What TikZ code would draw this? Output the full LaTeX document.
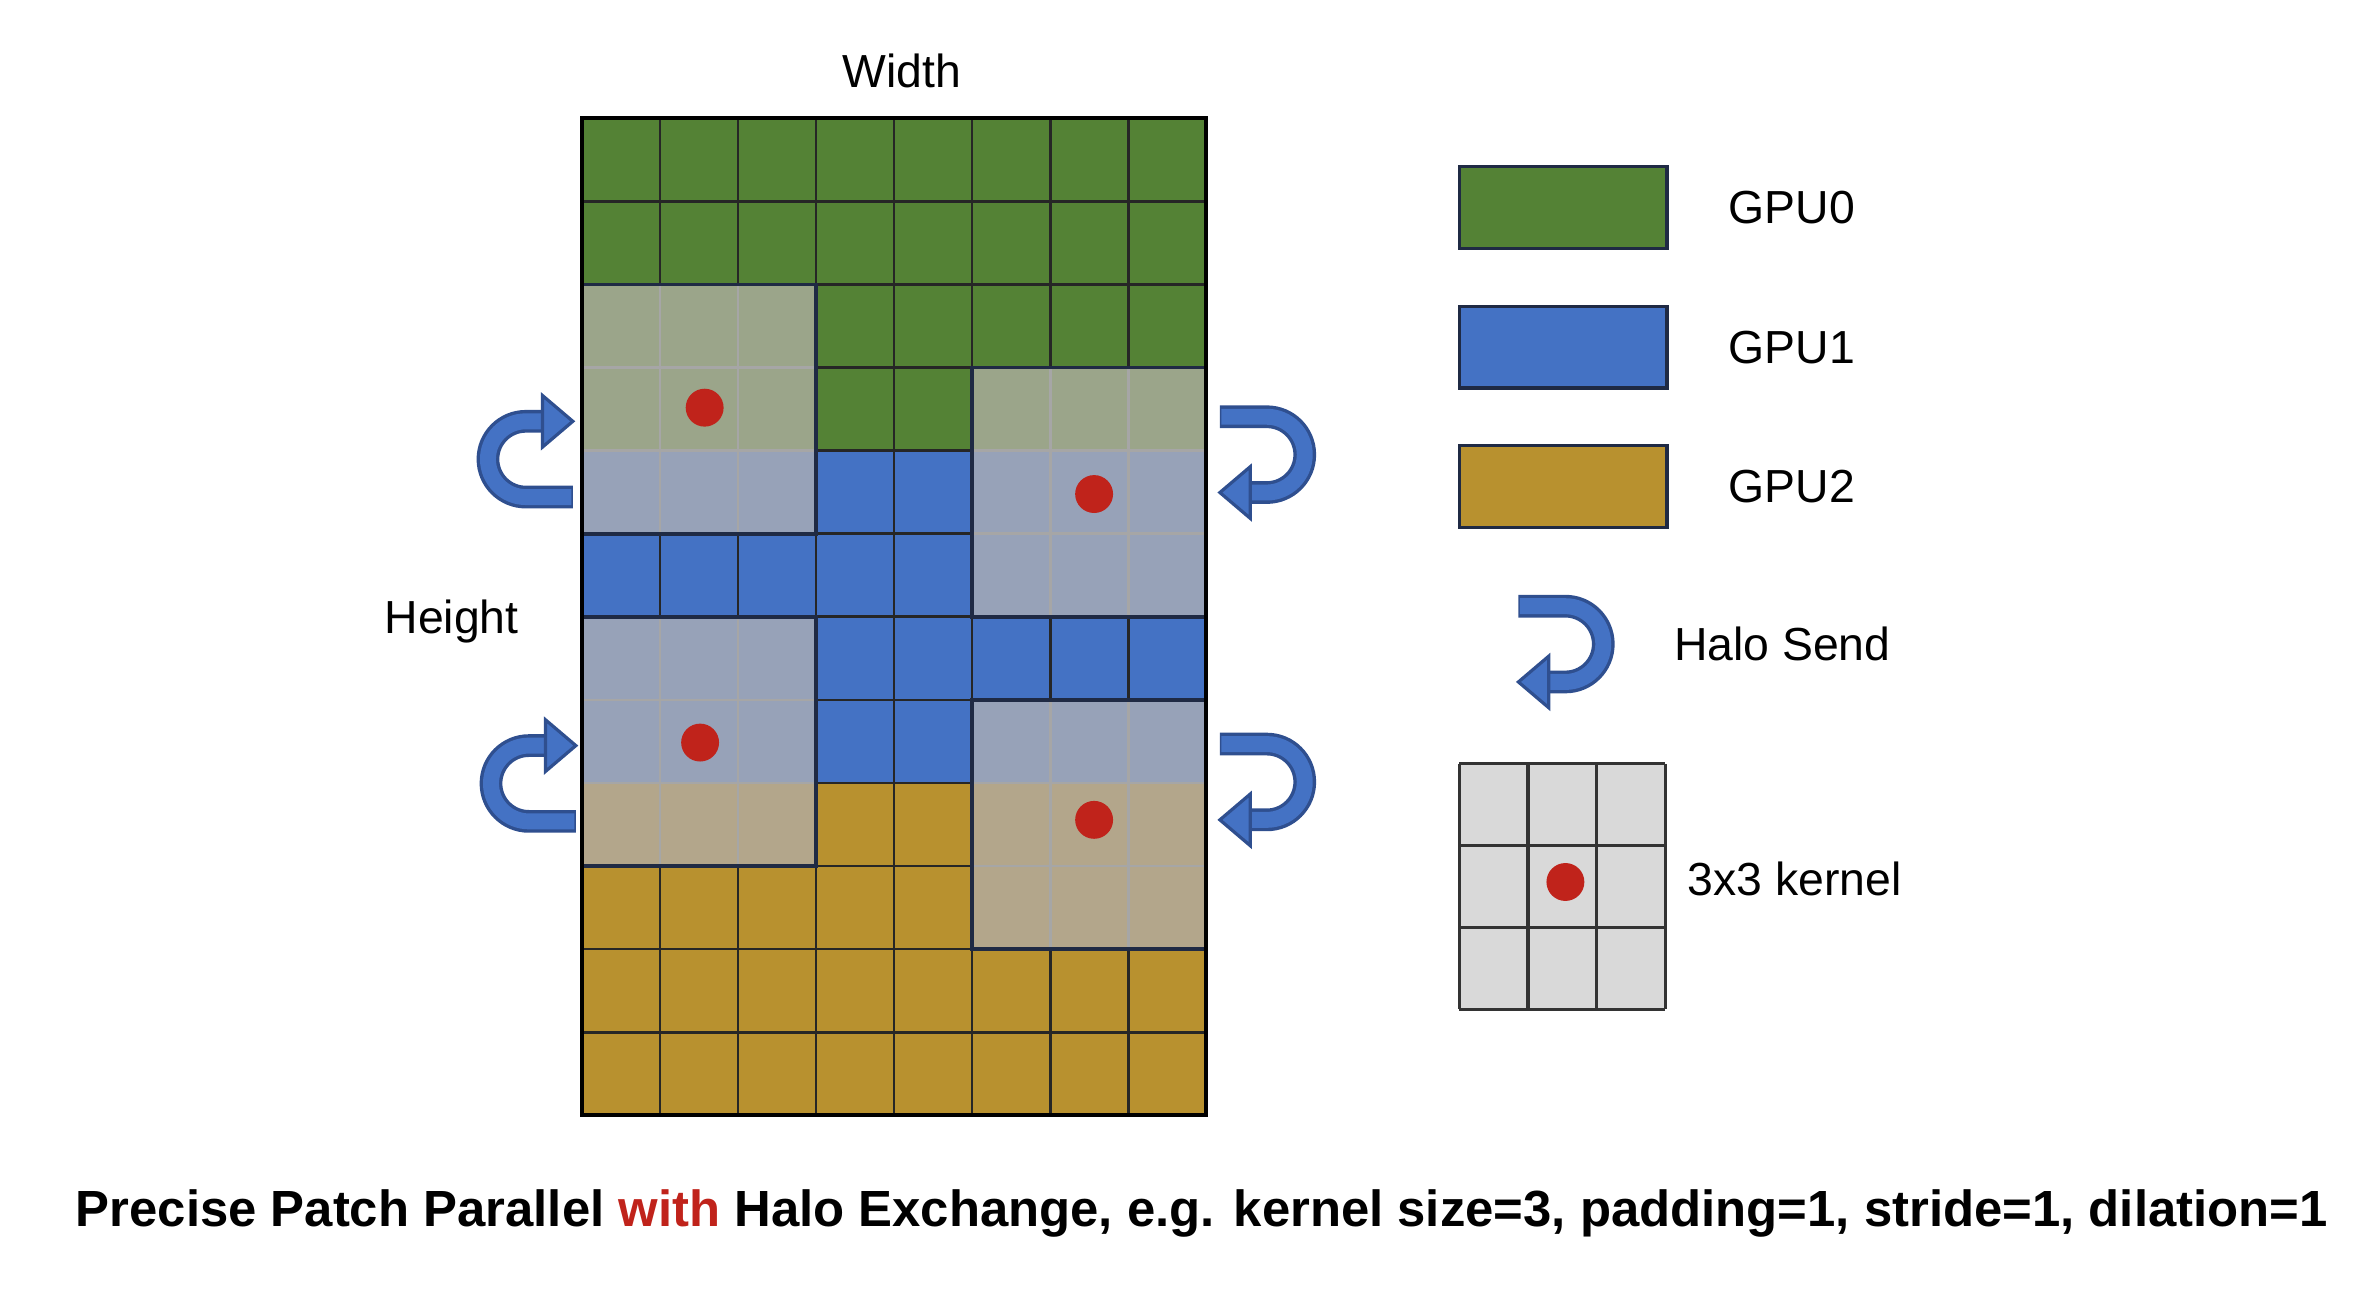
\documentclass[tikz,border=0pt]{standalone}
\usepackage{fontspec}
\setmainfont{Liberation Sans}
\usepackage{graphicx}
\definecolor{g0}{HTML}{548235}
\definecolor{g1}{HTML}{4472C4}
\definecolor{g2}{HTML}{B8912F}
\definecolor{hg0}{HTML}{9BA58A}
\definecolor{hg1}{HTML}{97A2B8}
\definecolor{hg2}{HTML}{B3A68B}
\definecolor{dotred}{HTML}{C0231B}
\definecolor{arrline}{HTML}{2F4F8F}
\definecolor{boxline}{HTML}{1F2A44}
\definecolor{kgrey}{HTML}{D9D9D9}
\definecolor{txtred}{HTML}{C0231B}
\tikzset{
  lbl/.style={font=\fontsize{8.7}{11}\selectfont, anchor=center},
  dot/.style={circle, fill=dotred, inner sep=0pt, minimum size=0.25cm},
  haloshaft/.style={line width=0.15cm, draw=arrline},
  haloshaftin/.style={line width=0.105cm, draw=g1},
}
\newcommand\haloarrow[3]{%
  \begin{scope}[shift={(#1,#2)}, rotate=#3]
    \draw[haloshaft] (0,50) -- (-31,50) arc[start angle=90,end angle=270,radius=25] -- (-18,0);
    \draw[haloshaftin] (-1,50) -- (-31,50) arc[start angle=90,end angle=270,radius=25] -- (-17,0);
    \filldraw[fill=g1, draw=arrline, line width=0.6pt, line join=miter] (-20,-17) -- (0,0) -- (-20,17) -- cycle;
  \end{scope}}
\begin{document}
\begin{tikzpicture}[x=0.01cm, y=-0.01cm]
\useasboundingbox (0,0) rectangle (1560,850);
\def\cw{51.5}\def\rh{54.833}
\fill[g0] (384,78) rectangle (796,{78+4*\rh});
\fill[g1] (384,{78+4*\rh}) rectangle (796,{78+8*\rh});
\fill[g2] (384,{78+8*\rh}) rectangle (796,736);
\foreach \c/\r/\n/\col in {0/2/2/hg0, 0/4/1/hg1, 5/3/1/hg0, 5/4/2/hg1, 0/6/2/hg1, 0/8/1/hg2, 5/7/1/hg1, 5/8/2/hg2}
  \fill[\col] ({384+\c*\cw},{78+\r*\rh}) rectangle ({384+(\c+3)*\cw},{78+(\r+\n)*\rh});
\foreach \i in {0,...,8} \draw[line width=0.5pt, black!85] ({384+\i*\cw},78) -- ({384+\i*\cw},736);
\foreach \j in {0,...,12} \draw[line width=0.5pt, black!85] (384,{78+\j*\rh}) -- (796,{78+\j*\rh});
\foreach \c/\r in {0/2, 5/3, 0/6, 5/7}{
  \foreach \i in {1,2} {
    \draw[line width=0.5pt, gray!70] ({384+(\c+\i)*\cw},{78+\r*\rh}) -- ({384+(\c+\i)*\cw},{78+(\r+3)*\rh});
    \draw[line width=0.5pt, gray!70] ({384+\c*\cw},{78+(\r+\i)*\rh}) -- ({384+(\c+3)*\cw},{78+(\r+\i)*\rh});}
  \draw[line width=0.7pt, boxline] ({384+\c*\cw},{78+\r*\rh}) rectangle ({384+(\c+3)*\cw},{78+(\r+3)*\rh});
}
\draw[line width=0.8pt, black] (384,78) rectangle (796,736);
\node[dot] (d1) at (465,269) {};
\node[dot] (d2) at (722,326) {};
\node[dot] (d3) at (462,490) {};
\node[dot] (d4) at (722,541) {};
\haloarrow{378}{278}{0}
\haloarrow{805}{325}{180}
\haloarrow{380}{492}{0}
\haloarrow{805}{541}{180}
\haloarrow{1002}{450}{180}
\node[lbl] (w) at (595,47) {Width};
\node[lbl] (h) at (298,410) {Height};
\draw[fill=g0, draw=boxline, line width=0.6pt] (963,110) rectangle (1100,164);
\draw[fill=g1, draw=boxline, line width=0.6pt] (963,202) rectangle (1100,256);
\draw[fill=g2, draw=boxline, line width=0.6pt] (963,294) rectangle (1100,348);
\node[lbl, anchor=west, inner sep=0pt] (l0) at (1140,137) {GPU0};
\node[lbl, anchor=west, inner sep=0pt] (l1) at (1140,229) {GPU1};
\node[lbl, anchor=west, inner sep=0pt] (l2) at (1140,321) {GPU2};
\node[lbl, anchor=west, inner sep=0pt] (l3) at (1104,425) {Halo Send};
\fill[kgrey] (963,504) rectangle (1099,666);
\foreach \i in {0,...,3} \draw[line width=0.6pt, black!80] ({963+\i*45.33},504) -- ({963+\i*45.33},666);
\foreach \j in {0,...,3} \draw[line width=0.6pt, black!80] (963,{504+\j*54}) -- (1099,{504+\j*54});
\node[dot] (kd) at (1033,582) {};
\node[lbl, anchor=west, inner sep=0pt] (l4) at (1113,580) {3x3 kernel};
\node[anchor=center, inner sep=0pt] (cap) at (793,801) {\resizebox{14.85cm}{!}{\bfseries Precise Patch Parallel \textcolor{txtred}{with} Halo Exchange, e.g. kernel size=3, padding=1, stride=1, dilation=1}};
\end{tikzpicture}
\end{document}
